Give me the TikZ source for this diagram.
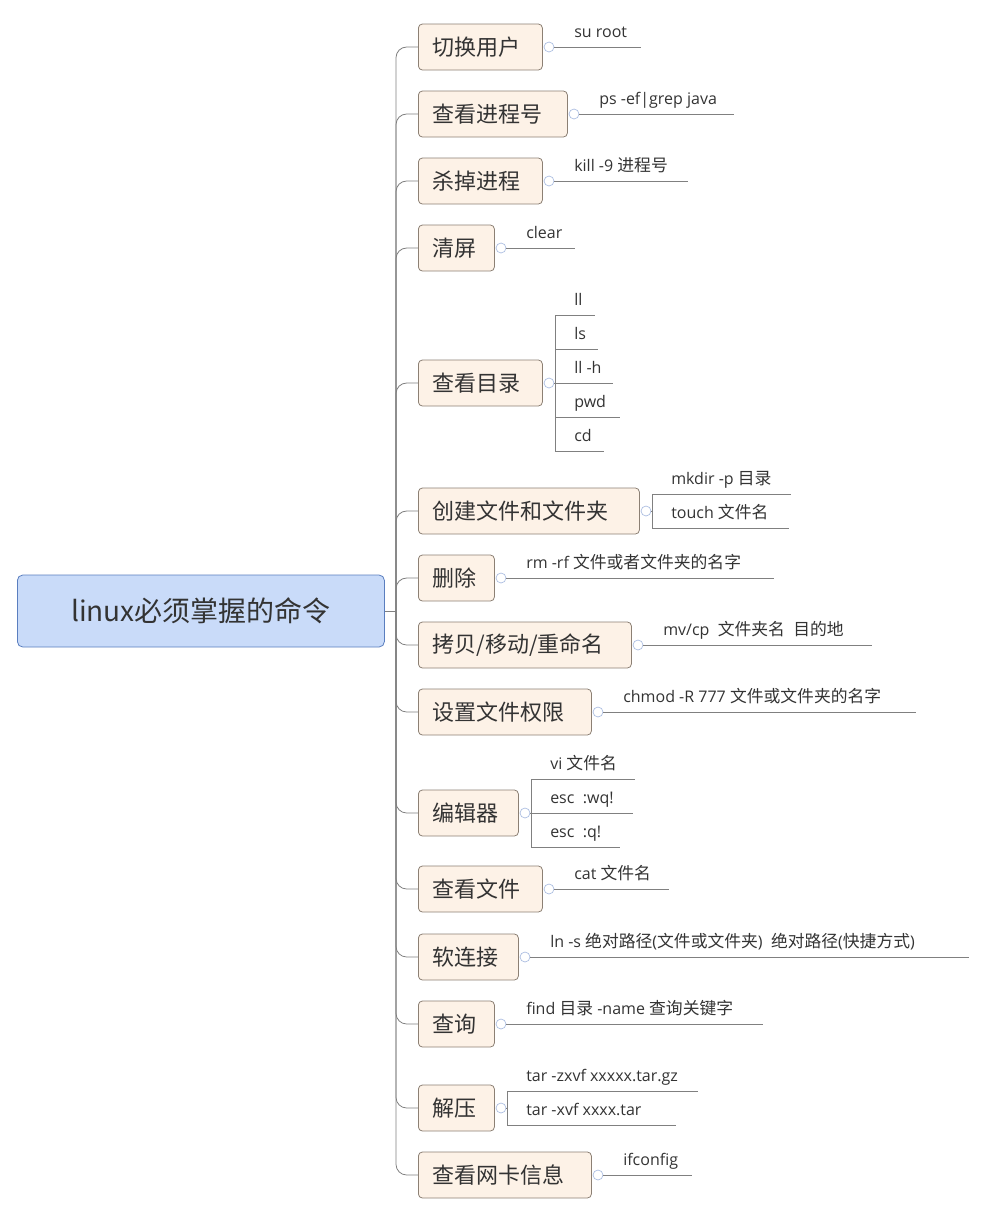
\documentclass[tikz,border=0pt]{standalone}
\usepackage{fontspec}
\setmainfont{Open Sans}
\newfontfamily\cjk{Noto Sans CJK SC}
\newcommand\zh[1]{{\cjk\fontsize{12.6}{14}\selectfont #1}}
\usetikzlibrary{calc}
\definecolor{rootfill}{HTML}{C9DBF9}
\definecolor{rootdraw}{HTML}{5A7EBF}
\definecolor{boxfill}{HTML}{FDF2E7}
\definecolor{boxdraw}{HTML}{8C8074}
\definecolor{ln}{HTML}{808080}
\definecolor{txt}{HTML}{333333}
\definecolor{circ}{HTML}{A9BCE0}
\tikzset{
 rootbox/.style={draw=rootdraw,fill=rootfill,rounded corners=4pt,minimum width=367*0.75pt,minimum height=72*0.75pt,font=\cjk\fontsize{21}{25}\selectfont,text=txt,anchor=west,line width=0.6pt},
 br/.style={draw=boxdraw,fill=boxfill,rounded corners=3pt,minimum height=46*0.75pt,font=\cjk\fontsize{16.5}{20}\selectfont,text=txt,anchor=west,inner xsep=14*0.75pt,align=left,line width=0.6pt},
 lf/.style={font=\fontsize{12}{14}\selectfont,text=txt,anchor=base west,inner sep=0pt},
 cn/.style={draw=ln,line width=0.6pt},
 tog/.style={circle,draw=circ,fill=white,minimum size=7.5pt,inner sep=0pt,line width=0.5pt},
}
\begin{document}
\begin{tikzpicture}[x=0.75pt,y=-0.75pt]
\useasboundingbox (0,0) rectangle (986,1215);
\node[rootbox] (root) at (17,611) {linux必须掌握的命令};
\coordinate (hub) at (396,611);
\draw[cn] (root.east) -- (hub);
\newcommand\branch[4]{%
 \path (418,#2) coordinate (#1L) (#3,#2) coordinate (#1R);
 \draw[cn,rounded corners=8pt] (hub) |- (#1L);
 \node[br,text width={(#3-418-28)*0.75pt}] (#1) at (#1L) {#4};
 \node[tog] (#1t) at ($(#1R)+(7,0)$) {};
}
\newcommand\single[5]{%
 \coordinate (#1e) at (#4,#2);
 \draw[cn] (#1t.east) -- (#1e);
 \node[lf] (#1x) at (#3,#2-10) {#5};
}
\newcommand\leaf[6]{%
 \coordinate (#1s) at (#3,#2); \coordinate (#1e) at (#4,#2);
 \draw[cn] (#1s) -- (#1e);
 \node[lf] (#1x) at (#5,#2-10) {#6};
}
\branch{b1}{47}{542}{切换用户}
\single{b1}{47}{574}{641}{su root}
\branch{b2}{114}{567}{查看进程号}
\single{b2}{114}{599}{734}{ps -ef|grep java}
\branch{b3}{181}{542}{杀掉进程}
\single{b3}{181}{574}{688}{kill -9 \zh{进程号}}
\branch{b4}{248}{494}{清屏}
\single{b4}{248}{526}{575}{clear}
\branch{b5}{383}{542}{查看目录}
\coordinate (b5v1) at (555,315); \coordinate (b5v2) at (555,451);
\draw[cn] (b5t.east) -- (555,383);
\draw[cn] (b5v1) -- (b5v2);
\leaf{l51}{315}{555}{595}{574}{ll}
\leaf{l52}{349}{555}{598}{574}{ls}
\leaf{l53}{383}{555}{613}{574}{ll -h}
\leaf{l54}{417}{555}{620}{574}{pwd}
\leaf{l55}{451}{555}{604}{574}{cd}
\branch{b6}{511}{639}{创建文件和文件夹}
\coordinate (b6v1) at (652,494); \coordinate (b6v2) at (652,528);
\draw[cn] (b6t.east) -- (652,511);
\draw[cn] (b6v1) -- (b6v2);
\leaf{l61}{494}{652}{791}{671}{mkdir -p \zh{目录}}
\leaf{l62}{528}{652}{789}{671}{touch \zh{文件名}}
\branch{b7}{578}{494}{删除}
\single{b7}{578}{526}{774}{rm -rf \zh{文件或者文件夹的名字}}
\branch{b8}{645}{631}{拷贝/移动/重命名}
\single{b8}{645}{663}{872}{mv/cp \ \zh{文件夹名}\ \ \zh{目的地}}
\branch{b9}{712}{591}{设置文件权限}
\single{b9}{712}{623}{916}{chmod -R 777 \zh{文件或文件夹的名字}}
\branch{b10}{813}{518}{编辑器}
\coordinate (b10v1) at (531,779); \coordinate (b10v2) at (531,847);
\draw[cn] (b10t.east) -- (531,813);
\draw[cn] (b10v1) -- (b10v2);
\leaf{l101}{779}{531}{635}{550}{vi \zh{文件名}}
\leaf{l102}{813}{531}{633}{550}{esc\ \ :wq!}
\leaf{l103}{847}{531}{620}{550}{esc\ \ :q!}
\branch{b11}{889}{542}{查看文件}
\single{b11}{889}{574}{669}{cat \zh{文件名}}
\branch{b12}{957}{518}{软连接}
\single{b12}{957}{550}{969}{ln -s \zh{绝对路径}(\zh{文件或文件夹})\ \ \zh{绝对路径}(\zh{快捷方式})}
\branch{b13}{1024}{494}{查询}
\single{b13}{1024}{526}{763}{find \zh{目录} -name \zh{查询关键字}}
\branch{b14}{1108}{494}{解压}
\coordinate (b14v1) at (507,1091); \coordinate (b14v2) at (507,1125);
\draw[cn] (b14t.east) -- (507,1108);
\draw[cn] (b14v1) -- (b14v2);
\leaf{l141}{1091}{507}{698}{526}{tar -zxvf xxxxx.tar.gz}
\leaf{l142}{1125}{507}{676}{526}{tar -xvf xxxx.tar}
\branch{b15}{1175}{591}{查看网卡信息}
\single{b15}{1175}{623}{692}{ifconfig}
\end{tikzpicture}
\end{document}
